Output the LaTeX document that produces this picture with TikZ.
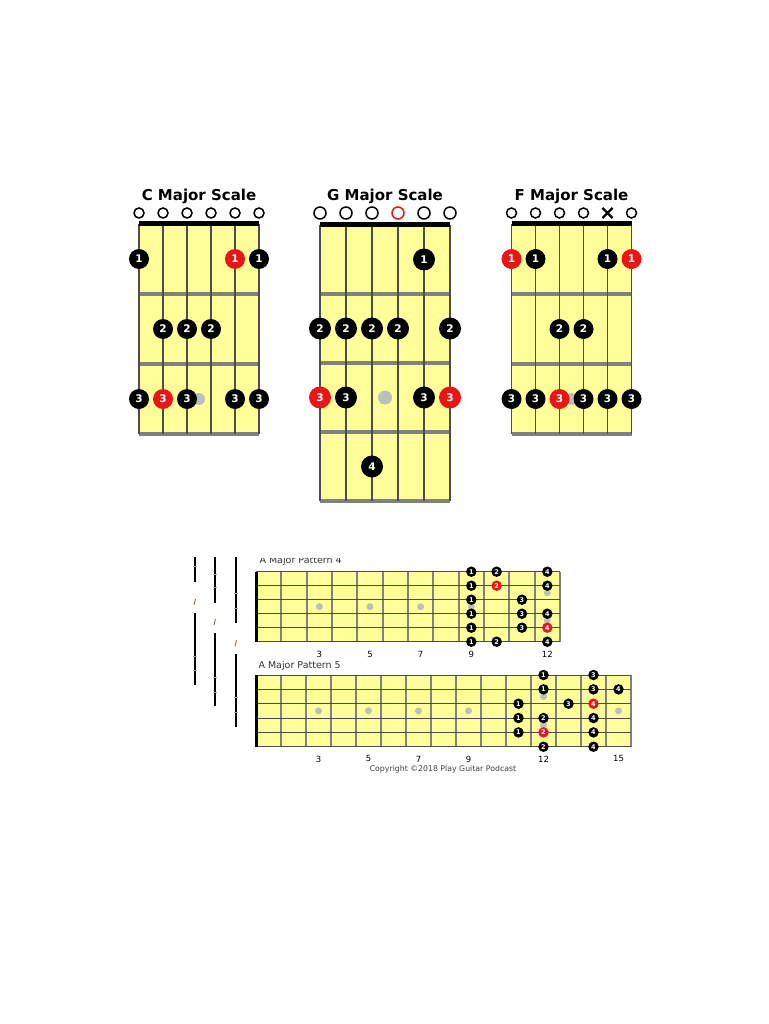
\documentclass[tikz,border=0pt]{standalone}
\usepackage{fontspec}
\setmainfont{DejaVu Sans}
\usetikzlibrary{shapes.misc}
\definecolor{fretboard}{RGB}{255,255,153}
\definecolor{rootred}{RGB}{232,22,22}
\definecolor{inlaygray}{RGB}{190,190,190}
\definecolor{tagbrown}{RGB}{150,110,60}

\begin{document}
\begin{tikzpicture}[
    x=1pt, y=-1pt,
    board/.style={fill=fretboard},
    fretbar/.style={line width=3.5pt, black!50},
    stringline/.style={line width=1.3pt, black!70},
    nutbar/.style={line width=5pt, black},
    inlay/.style={fill=inlaygray},
    openmark/.style={circle, draw=black, line width=1.5pt, fill=white, minimum size=10pt, inner sep=0pt},
    mutemark/.style={cross out, draw=black, line width=2.2pt, minimum size=8pt, inner sep=0pt},
    scaletitle/.style={font=\bfseries\fontsize{15}{18}\selectfont, anchor=base},
    dot/.style={circle, fill=black, text=white, inner sep=0pt, minimum size=20pt, font=\bfseries\fontsize{10.5}{10.5}\selectfont},
    rdot/.style={dot, fill=rootred},
    sfret/.style={line width=2pt, black!50},
    sstring/.style={line width=1pt, black!70},
    snut/.style={line width=3pt, black},
    sdot/.style={circle, fill=black, text=white, inner sep=0pt, minimum size=10.5pt, font=\bfseries\fontsize{6.5}{6.5}\selectfont},
    srdot/.style={sdot, fill=rootred},
    fretnum/.style={font=\fontsize{8.5}{10}\selectfont},
    patterntitle/.style={font=\fontsize{9.5}{11}\selectfont, anchor=base west, black!80},
    cutbar/.style={line width=2.8pt, black},
    cuttick/.style={line width=0.8pt, black!35},
    cuttag/.style={line width=0.9pt, tagbrown},
  ]

  \fill[white] (0,0) rectangle (768,1024);
  \useasboundingbox (0,0) rectangle (768,1024);

  % --- C major scale --------------------------------------------------------
  \begin{scope}[shift={(139,224)}, x=24pt, y=-70pt]
    \fill[board] (0,0) rectangle (5,3);
    \foreach \f in {1,2,3} \draw[fretbar] (0,\f) -- (5,\f);
    \foreach \s in {0,...,5} \draw[stringline] (\s,0) -- (\s,3);
    \draw[nutbar] (0,0) -- (5,0);
    \fill[inlay] (2.5,2.5) circle (6pt);
    \foreach \s in {0,...,5} \node[openmark, yshift=11pt] (c-open\s) at (\s,0) {};
    \node[scaletitle, yshift=23pt] (c-title) at (2.5,0) {C Major Scale};
    \foreach \s/\f/\lab/\kind in {0/1/1/dot, 4/1/1/rdot, 5/1/1/dot,
        1/2/2/dot, 2/2/2/dot, 3/2/2/dot,
        0/3/3/dot, 1/3/3/rdot, 2/3/3/dot, 4/3/3/dot, 5/3/3/dot}
      \node[\kind] (c-\s-\f) at (\s,\f-0.5) {\lab};
  \end{scope}

  % --- G major scale --------------------------------------------------------
  \begin{scope}[shift={(320,225)}, x=26pt, y=-69pt,
      dot/.append style={minimum size=22pt},
      openmark/.append style={minimum size=12pt}]
    \fill[board] (0,0) rectangle (5,4);
    \foreach \f in {1,...,4} \draw[fretbar] (0,\f) -- (5,\f);
    \foreach \s in {0,...,5} \draw[stringline] (\s,0) -- (\s,4);
    \draw[nutbar] (0,0) -- (5,0);
    \fill[inlay] (2.5,2.5) circle (7pt);
    \foreach \s/\col in {0/black, 1/black, 2/black, 3/rootred, 4/black, 5/black}
      \node[openmark, draw=\col, yshift=12pt] (g-open\s) at (\s,0) {};
    \node[scaletitle, yshift=24pt] (g-title) at (2.5,0) {G Major Scale};
    \foreach \s/\f/\lab/\kind in {4/1/1/dot,
        0/2/2/dot, 1/2/2/dot, 2/2/2/dot, 3/2/2/dot, 5/2/2/dot,
        0/3/3/rdot, 1/3/3/dot, 4/3/3/dot, 5/3/3/rdot,
        2/4/4/dot}
      \node[\kind] (g-\s-\f) at (\s,\f-0.5) {\lab};
  \end{scope}

  % --- F major scale --------------------------------------------------------
  \begin{scope}[shift={(511.5,224)}, x=24pt, y=-70pt]
    \fill[board] (0,0) rectangle (5,3);
    \foreach \f in {1,2,3} \draw[fretbar] (0,\f) -- (5,\f);
    \foreach \s in {0,...,5} \draw[stringline] (\s,0) -- (\s,3);
    \draw[nutbar] (0,0) -- (5,0);
    \fill[inlay] (2.5,2.5) circle (6pt);
    \foreach \s in {0,1,2,3,5} \node[openmark, yshift=11pt] (f-open\s) at (\s,0) {};
    \node[mutemark, yshift=11pt] (f-mute) at (4,0) {};
    \node[scaletitle, yshift=23pt] (f-title) at (2.5,0) {F Major Scale};
    \foreach \s/\f/\lab/\kind in {0/1/1/rdot, 1/1/1/dot, 4/1/1/dot, 5/1/1/rdot,
        2/2/2/dot, 3/2/2/dot,
        0/3/3/dot, 1/3/3/dot, 2/3/3/rdot, 3/3/3/dot, 4/3/3/dot, 5/3/3/dot}
      \node[\kind] (f-\s-\f) at (\s,\f-0.5) {\lab};
  \end{scope}

  % --- cut-off strips at the left --------------------------------------------
  \foreach \bx/\ya/\yb/\yc/\yd in {195/557/582/613/685, 215/557/603/633/706, 236/557/623/654/727} {
    \draw[cutbar] (\bx,\ya) -- (\bx,\yb);
    \draw[cutbar] (\bx,\yc) -- (\bx,\yd);
    \draw[cuttag] (\bx-1,\yc-8) -- (\bx+0.5,\yc-14);
  }
  \foreach \bx/\ty in {195/566, 195/656, 195/670, 215/574, 215/587, 215/677, 215/692,
      236/593, 236/608, 236/697, 236/712}
    \draw[cuttick] (\bx-1.6,\ty) -- (\bx+1.6,\ty);

  % --- A major pattern 4 -----------------------------------------------------
  \begin{scope}
    \clip (250,558.5) rectangle (420,571);
    \node[patterntitle] (p4-title) at (256,563.5) {A Major Pattern 4};
  \end{scope}
  \begin{scope}[shift={(256,571.7)}, x=25.33pt, y=-14pt]
    \fill[board] (0,0) rectangle (12,5);
    \foreach \f in {1,...,12} \draw[sfret] (\f,0) -- (\f,5);
    \foreach \s in {0,...,5} \draw[sstring] (0,\s) -- (12,\s);
    \draw[snut] (0,0) -- (0,5);
    \foreach \f in {3,5,7,9} \fill[inlay] (\f-0.5,2.5) circle (3.5pt);
    \fill[inlay] (11.5,1.5) circle (3.5pt);
    \fill[inlay] (11.5,3.5) circle (3.5pt);
    \foreach \f in {3,5,7,9,12} \node[fretnum] (p4-num\f) at (\f-0.5,5.93) {\f};
    \foreach \s/\f/\lab/\kind in {0/9/1/sdot, 0/10/2/sdot, 0/12/4/sdot,
        1/9/1/sdot, 1/10/2/srdot, 1/12/4/sdot,
        2/9/1/sdot, 2/11/3/sdot,
        3/9/1/sdot, 3/11/3/sdot, 3/12/4/sdot,
        4/9/1/sdot, 4/11/3/sdot, 4/12/4/srdot,
        5/9/1/sdot, 5/10/2/sdot, 5/12/4/sdot}
      \node[\kind] (p4-\s-\f) at (\f-0.5,\s) {\lab};
  \end{scope}

  % --- A major pattern 5 -----------------------------------------------------
  \node[patterntitle] (p5-title) at (255,668) {A Major Pattern 5};
  \begin{scope}[shift={(256,675)}, x=25pt, y=-14.35pt]
    \fill[board] (0,0) rectangle (15,5);
    \foreach \f in {1,...,15} \draw[sfret] (\f,0) -- (\f,5);
    \foreach \s in {0,...,5} \draw[sstring] (0,\s) -- (15,\s);
    \draw[snut] (0,0) -- (0,5);
    \foreach \f in {3,5,7,9,15} \fill[inlay] (\f-0.5,2.5) circle (3.5pt);
    \fill[inlay] (11.5,1.5) circle (3.5pt);
    \fill[inlay] (11.5,3.5) circle (3.5pt);
    \foreach \f in {3,5,7,9,12,15} \node[fretnum] (p5-num\f) at (\f-0.5,5.85) {\f};
    \foreach \s/\f/\lab/\kind in {0/12/1/sdot, 0/14/3/sdot,
        1/12/1/sdot, 1/14/3/sdot, 1/15/4/sdot,
        2/11/1/sdot, 2/13/3/sdot, 2/14/4/srdot,
        3/11/1/sdot, 3/12/2/sdot, 3/14/4/sdot,
        4/11/1/sdot, 4/12/2/srdot, 4/14/4/sdot,
        5/12/2/sdot, 5/14/4/sdot}
      \node[\kind] (p5-\s-\f) at (\f-0.5,\s) {\lab};
  \end{scope}
  \node[font=\fontsize{7.8}{9}\selectfont, black!75] (copyright) at (443,769.5) {Copyright ©2018 Play Guitar Podcast};

\end{tikzpicture}
\end{document}
